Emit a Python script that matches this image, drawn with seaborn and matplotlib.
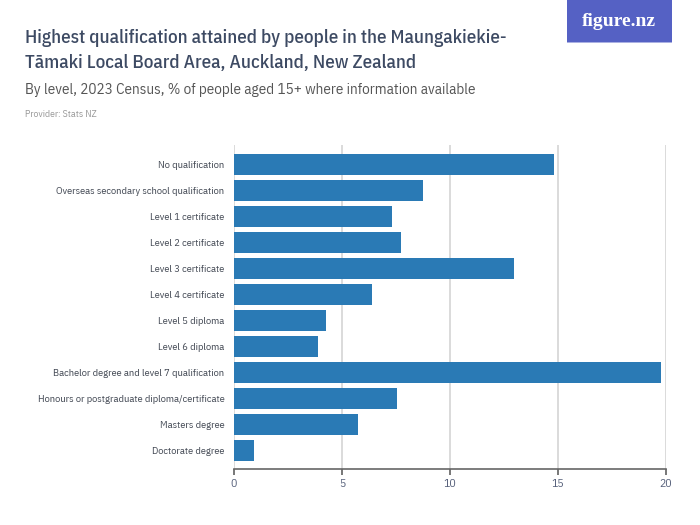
import matplotlib
matplotlib.use("Agg")
import matplotlib.pyplot as plt
import seaborn as sns
import pandas as pd
from matplotlib.patches import Rectangle

categories = [
    "No qualification",
    "Overseas secondary school qualification",
    "Level 1 certificate",
    "Level 2 certificate",
    "Level 3 certificate",
    "Level 4 certificate",
    "Level 5 diploma",
    "Level 6 diploma",
    "Bachelor degree and level 7 qualification",
    "Honours or postgraduate diploma/certificate",
    "Masters degree",
    "Doctorate degree",
]
values = [14.83, 8.73, 7.31, 7.71, 12.95, 6.39, 4.24, 3.87, 19.77, 7.53, 5.72, 0.91]
x_ticks = [0, 5, 10, 15, 20]

sns.set_theme(style="white")
cond = ["IBM Plex Sans Condensed", "DejaVu Sans"]
plt.rcParams["font.family"] = cond

df = pd.DataFrame({"category": categories, "value": values})

fig = plt.figure(figsize=(7, 5.25), dpi=100)
ax = fig.add_axes([234 / 700, 1 - 469.3 / 525, 432 / 700, (469.3 - 145) / 525])

sns.barplot(data=df, x="value", y="category", orient="h", color="#2a7ab5",
            saturation=1, width=0.8, linewidth=0, ax=ax)

ax.set_xlim(0, 20)
ax.set_ylim(11.73, -0.74)
ax.set_xticks(x_ticks)
ax.set_xticklabels([str(t) for t in x_ticks])
ax.set_xlabel("")
ax.set_ylabel("")
ax.grid(axis="x", color="#d4d4d4", linewidth=1.2)
ax.set_axisbelow(True)
for s in ["top", "right", "left"]:
    ax.spines[s].set_visible(False)
ax.spines["bottom"].set_color("#666666")
ax.spines["bottom"].set_linewidth(1.2)
ax.tick_params(axis="x", length=4, color="#666666", labelsize=8.5,
               labelcolor="#56607a", pad=3, bottom=True)
ax.tick_params(axis="y", length=0, labelsize=7.5, labelcolor="#444a55", pad=7)

# Titles
fig.text(25 / 700, 1 - 43 / 525, "Highest qualification attained by people in the Maungakiekie-",
         fontsize=13.7, color="#3d4a63", ha="left", va="baseline", fontweight="medium")
fig.text(25 / 700, 1 - 68 / 525, "Tāmaki Local Board Area, Auckland, New Zealand",
         fontsize=13.7, color="#3d4a63", ha="left", va="baseline", fontweight="medium")
fig.text(25 / 700, 1 - 94 / 525, "By level, 2023 Census, % of people aged 15+ where information available",
         fontsize=10.9, color="#555555", ha="left", va="baseline")
fig.text(25 / 700, 1 - 117 / 525, "Provider: Stats NZ",
         fontsize=7, color="#999999", ha="left", va="baseline")

# Logo
fig.patches.append(Rectangle((567 / 700, 1 - 42 / 525), 105 / 700, 42 / 525,
                             transform=fig.transFigure, facecolor="#5561c4",
                             edgecolor="none", zorder=5))
fig.patches.append(Rectangle((567 / 700, 1 - 43 / 525), 105 / 700, 1 / 525,
                             transform=fig.transFigure, facecolor="#aab0e2",
                             edgecolor="none", zorder=5))
fig.text(619 / 700, 1 - 21 / 525, "figure.nz", fontsize=14, color="white",
         family=["Liberation Serif", "DejaVu Serif"], ha="center", va="center",
         fontweight="bold", zorder=6)

fig.savefig("out.png", dpi=100)
